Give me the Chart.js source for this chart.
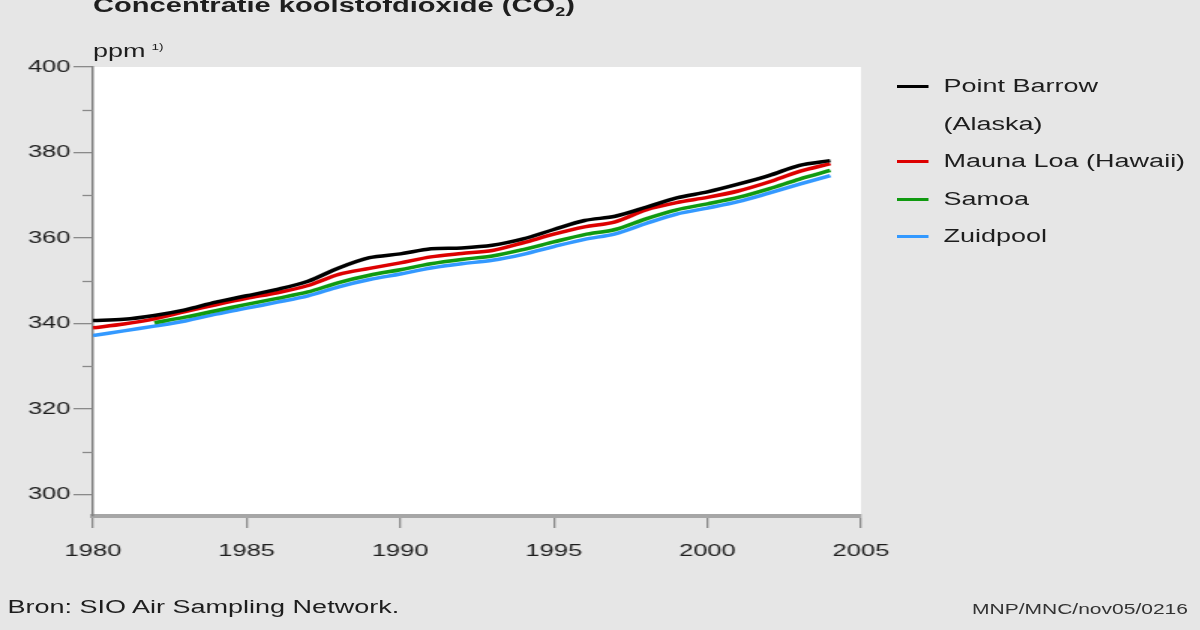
<!DOCTYPE html>
<html>
<head>
<meta charset="utf-8">
<script src="https://cdn.jsdelivr.net/npm/chart.js@4.4.1/dist/chart.umd.min.js"></script>
<style>
  html, body { margin:0; padding:0; background:#e6e6e6; overflow:hidden; }
  #stage { position:absolute; left:0; top:0; width:800px; height:630px; transform:scaleX(1.5); transform-origin:0 0; font-family:"Liberation Sans", Arial, sans-serif; color:#1e1e1e; }
  canvas { position:absolute; left:0; top:0; }
  .txt { position:absolute; white-space:nowrap; }
  #title { left:62px; top:-4px; font-size:19.4px; line-height:19px; font-weight:bold; }
  #title sub { font-size:12px; vertical-align:-4px; line-height:0; }
  #unit { left:62px; top:38px; font-size:18px; line-height:18px; }
  #unit sup { font-size:9px; vertical-align:7px; margin-left:4px; }
  #source { left:5px; top:598px; font-size:18px; line-height:18px; }
  #code { left:648px; top:602px; font-size:14px; line-height:14px; color:#333; }
  #legend { position:absolute; left:598px; top:68px; }
  .item { display:flex; align-items:flex-start; width:200px; }
  .sw { width:21px; height:3px; margin-top:17px; flex:none; }
  .lab { margin-left:10px; font-size:18px; line-height:37.5px; width:164px; white-space:normal; }
</style>
</head>
<body>
<div id="stage">
  <canvas id="c" width="800" height="630"></canvas>
  <div class="txt" id="title">Concentratie koolstofdioxide (CO<sub>2</sub>)</div>
  <div class="txt" id="unit">ppm<sup>1)</sup></div>
  <div id="legend"></div>
  <div class="txt" id="source">Bron: SIO Air Sampling Network.</div>
  <div class="txt" id="code">MNP/MNC/nov05/0216</div>
</div>
<script>
const years = [1980,1981,1982,1983,1984,1985,1986,1987,1988,1989,1990,1991,1992,1993,1994,1995,1996,1997,1998,1999,2000,2001,2002,2003,2004];
const pointBarrow = [340.7,341.0,341.9,343.2,345.0,346.5,348.0,349.9,353.0,355.4,356.3,357.5,357.7,358.3,359.8,362.0,364.1,365.1,367.2,369.4,370.8,372.6,374.6,377.0,378.1];
const maunaLoa    = [339.0,339.9,341.1,342.8,344.4,345.9,347.2,348.9,351.5,352.9,354.2,355.6,356.4,357.1,358.9,360.9,362.6,363.8,366.6,368.3,369.5,371.0,373.1,375.6,377.4];
const samoa       = [null,null,340.2,341.5,343.0,344.5,345.9,347.4,349.6,351.3,352.6,354.0,355.0,355.8,357.3,359.1,360.8,362.0,364.5,366.6,368.0,369.5,371.5,373.8,375.8];
const zuidpool    = [337.2,338.3,339.4,340.6,342.2,343.6,345.0,346.5,348.6,350.3,351.6,353.0,354.0,354.8,356.2,358.0,359.7,361.0,363.4,365.6,367.0,368.5,370.5,372.6,374.6];
const seriesNames = ['Point Barrow (Alaska)','Mauna Loa (Hawaii)','Samoa','Zuidpool'];
const seriesColors = ['#000000','#dd0000','#109a10','#3399ff'];
const seriesValues = [pointBarrow, maunaLoa, samoa, zuidpool];
const xTicks = [1980,1985,1990,1995,2000,2005];
const yTicks = [300,310,320,330,340,350,360,370,380,390,400];

const datasets = seriesValues.map((vals, i) => ({
  label: seriesNames[i],
  data: years.map((yr, j) => ({x: yr, y: vals[j]})).filter(p => p.y !== null),
  borderColor: seriesColors[i],
  backgroundColor: seriesColors[i],
  borderWidth: 3.5,
  pointRadius: 0,
  tension: 0.3,
  fill: false
}));

// legend as real text
const lg = document.getElementById('legend');
seriesNames.forEach((n, i) => {
  const it = document.createElement('div'); it.className = 'item';
  const sw = document.createElement('div'); sw.className = 'sw'; sw.style.background = seriesColors[i];
  const lb = document.createElement('div'); lb.className = 'lab'; lb.textContent = n;
  it.appendChild(sw); it.appendChild(lb); lg.appendChild(it);
});

const plotBg = {
  id: 'plotBg',
  beforeDraw(chart) {
    const a = chart.chartArea, ctx = chart.ctx;
    ctx.save(); ctx.fillStyle = '#ffffff';
    ctx.fillRect(a.left, a.top, a.right - a.left, a.bottom - a.top);
    ctx.restore();
  },
  afterDraw(chart) {
    const s = chart.scales.y, ctx = chart.ctx;
    ctx.save(); ctx.strokeStyle = '#8a8a8a'; ctx.lineWidth = 1.3;
    s.ticks.forEach(t => {
      if (t.value % 20 !== 0) {
        const py = Math.round(s.getPixelForValue(t.value)) + 0.5;
        ctx.beginPath(); ctx.moveTo(s.right - 7, py); ctx.lineTo(s.right, py); ctx.stroke();
      }
    });
    ctx.restore();
  }
};

Chart.defaults.font.family = '"Liberation Sans", Arial, sans-serif';
Chart.defaults.color = '#1e1e1e';

new Chart(document.getElementById('c'), {
  type: 'line',
  data: { datasets },
  options: {
    responsive: false,
    animation: false,
    layout: { padding: { left: 0, right: 226, top: 67, bottom: 0 } },
    plugins: { legend: { display: false }, tooltip: { enabled: false } },
    scales: {
      x: {
        type: 'linear', min: 1980, max: 2005,
        afterBuildTicks: s => { s.ticks = xTicks.map(v => ({value: v})); },
        afterFit: s => { s.height = 114; },
        ticks: { font: { size: 17 }, padding: 13, maxRotation: 0, callback: v => String(v), color: '#1e1e1e' },
        grid: { drawOnChartArea: false, drawTicks: true, tickLength: 12, color: '#8a8a8a', lineWidth: 1.3 },
        border: { color: '#a6a6a6', width: 4 }
      },
      y: {
        type: 'linear', min: 295, max: 400,
        afterBuildTicks: s => { s.ticks = yTicks.map(v => ({value: v})); },
        afterFit: s => { s.width = 62; },
        ticks: { font: { size: 17 }, padding: 2, callback: v => (v % 20 === 0 ? String(v) : ''), color: '#1e1e1e' },
        grid: { drawOnChartArea: false, drawTicks: true, tickLength: 13,
                color: ctx => (ctx.tick && ctx.tick.value % 20 === 0 ? '#8a8a8a' : 'rgba(0,0,0,0)'), lineWidth: 1.3 },
        border: { color: '#808080', width: 1.5 }
      }
    }
  },
  plugins: [plotBg]
});
</script>
</body>
</html>
